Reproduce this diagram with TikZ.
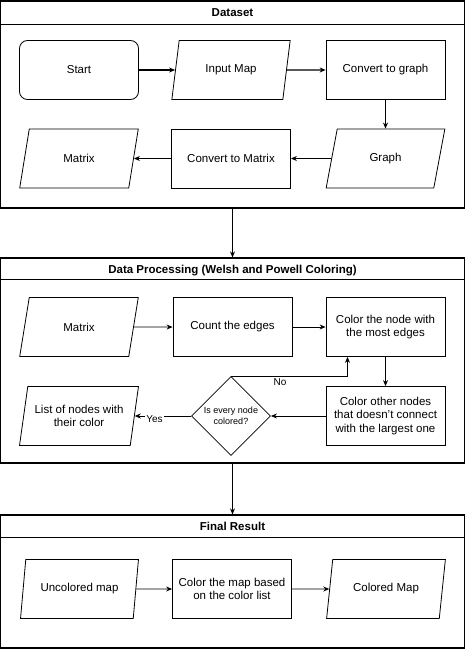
\documentclass[tikz,border=0pt]{standalone}
\usepackage{fontspec}
\setmainfont{Liberation Sans}
\usetikzlibrary{shapes.geometric,arrows.meta,positioning}

\tikzset{
    panel/.style={draw, line width=1.2pt, rectangle, inner sep=0pt},
    head/.style={font=\bfseries\fontsize{11.5}{13}\selectfont},
    box/.style={draw, line width=0.8pt, rectangle, minimum width=119pt, minimum height=59pt,
        align=center, inner sep=1pt, font=\fontsize{11.5}{13.5}\selectfont},
    io/.style={draw, line width=0.8pt, trapezium, trapezium left angle=73, trapezium right angle=107,
        trapezium stretches=true, minimum width=119pt, minimum height=59pt,
        align=center, inner sep=1pt, font=\fontsize{11.5}{13.5}\selectfont},
    arr/.style={-{Stealth[length=6pt,width=5pt]}, line width=0.8pt},
}

\begin{document}
\begin{tikzpicture}[x=1pt,y=-1pt]
    \useasboundingbox (0,0) rectangle (466,650);

    % Dataset
    \node[panel, minimum width=464pt, minimum height=207pt] (dataset) at (232.5,104.5) {};
    \draw[line width=1.2pt] ([yshift=-24pt]dataset.north west) -- ([yshift=-24pt]dataset.north east);
    \node[head, below=5pt of dataset.north] {Dataset};

    \node[box, rounded corners=8pt] (start) at (79,70) {Start};
    \node[io] (inmap) at (231,70) {Input Map};
    \node[box] (tograph) at (385.5,70) {Convert to graph};
    \node[io] (graph) at (385.5,158.5) {Graph};
    \node[box] (tomatrix) at (231,158.5) {Convert to Matrix};
    \node[io] (matrix) at (79,158.5) {Matrix};

    \draw[arr, line width=1.3pt] (start) -- (inmap);
    \draw[arr, line width=1.3pt] (inmap) -- (tograph);
    \draw[arr] (tograph) -- (graph);
    \draw[arr] (graph) -- (tomatrix);
    \draw[arr] (tomatrix) -- (matrix);

    % Data Processing
    \node[panel, minimum width=464pt, minimum height=205pt] (process) at (232.5,360.5) {};
    \draw[line width=1pt] ([yshift=-22pt]process.north west) -- ([yshift=-22pt]process.north east);
    \node[head, below=4pt of process.north] {Data Processing (Welsh and Powell Coloring)};

    \node[io] (matrixin) at (79,327) {Matrix};
    \node[box] (count) at (232.5,327) {Count the edges};
    \node[box] (colormost) at (385.5,327) {Color the node with\\the most edges};
    \node[box] (colorother) at (385.5,416) {Color other nodes\\that doesn't connect\\with the largest one};
    \node[draw, line width=0.8pt, diamond, minimum width=79pt, minimum height=79pt, inner sep=0pt,
        align=center, font=\fontsize{9}{11}\selectfont] (check) at (231,416) {Is every node\\colored?};
    \node[io] (colorlist) at (79,416) {List of nodes with\\their color};

    \draw[arr] (matrixin) -- (count);
    \draw[arr] (count) -- (colormost);
    \draw[arr] (colormost) -- (colorother);
    \draw[arr] (colorother) -- (check);
    \draw[arr] (check.north) -| ([xshift=-38pt]colormost.south)
        node[pos=0.21, below=-1pt, font=\fontsize{10}{11}\selectfont] {No};
    \draw[arr] (check) -- (colorlist)
        node[pos=0.65, fill=white, inner sep=1pt, yshift=-3pt, font=\fontsize{10}{11}\selectfont] {Yes};

    % Final Result
    \node[panel, minimum width=464pt, minimum height=133pt] (final) at (232.5,581.5) {};
    \draw[line width=1pt] ([yshift=-23pt]final.north west) -- ([yshift=-23pt]final.north east);
    \node[head, below=4pt of final.north] {Final Result};

    \node[io] (uncolored) at (79.5,589) {Uncolored map};
    \node[box] (colormap) at (232,589) {Color the map based\\on the color list};
    \node[io] (colored) at (386,589) {Colored Map};

    \draw[arr] (uncolored) -- (colormap);
    \draw[arr] (colormap) -- (colored);

    % between panels
    \draw[arr] (dataset.south) -- (process.north);
    \draw[arr] (process.south) -- (final.north);
\end{tikzpicture}
\end{document}
